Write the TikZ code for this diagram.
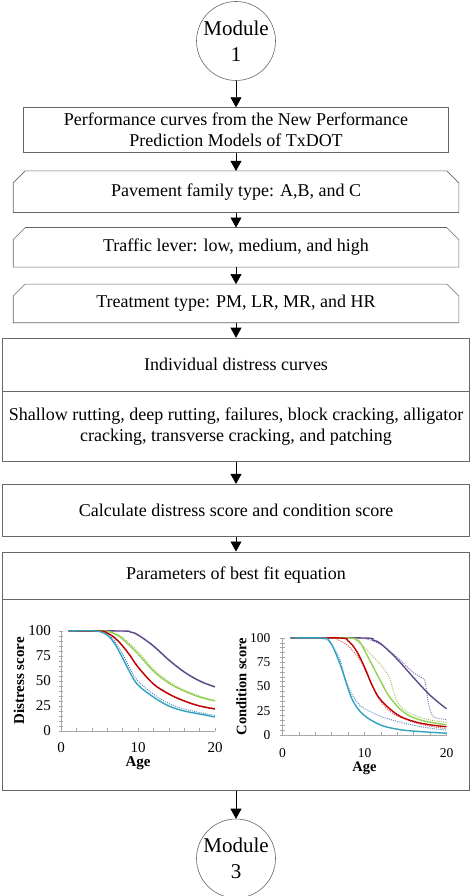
\documentclass[tikz,border=0pt]{standalone}
\usepackage{fontspec}
\setmainfont{Liberation Serif}
\usetikzlibrary{arrows.meta,positioning}

\definecolor{cpurple}{HTML}{5F4B8B}
\definecolor{cgreen}{HTML}{92D050}
\definecolor{cred}{HTML}{C00000}
\definecolor{cteal}{HTML}{31A2BE}
\definecolor{dpurple}{HTML}{8064A2}
\definecolor{dgreen}{HTML}{9BBB59}
\definecolor{dred}{HTML}{D05050}
\definecolor{dteal}{HTML}{4F81BD}
\definecolor{axisgray}{HTML}{A6A6A6}

% outline with the two upper corners cut off
\newcommand{\drawchamfer}[1]{%
  \draw[draw=black!60, line width=0.6pt] ([yshift=-12pt]#1.north west) -- ([xshift=12pt]#1.north west)
    -- ([xshift=-12pt]#1.north east) -- ([yshift=-12pt]#1.north east)
    -- (#1.south east) -- (#1.south west) -- cycle;}

\begin{document}
\begin{tikzpicture}[
        x=1pt, y=-1pt,
        box/.style={rectangle, draw=black!60, line width=0.6pt, minimum width=467pt, inner sep=0pt, align=center, font=\fontsize{18}{20.7}\selectfont},
        chamf/.style={box, draw=none, minimum width=445pt},
        module/.style={circle, draw=black!60, line width=0.6pt, minimum size=79pt, inner sep=0pt, align=center, font=\fontsize{21}{26}\selectfont},
        flow/.style={-{Triangle[length=10pt, width=11pt]}, line width=0.6pt},
        solidc/.style={line width=1.4pt},
        dotc/.style={line width=0.9pt, dash pattern=on 1pt off 1.2pt},
        axisline/.style={axisgray, line width=0.6pt},
        ticklab/.style={inner sep=0pt, font=\fontsize{15}{17}\selectfont},
        axtitle/.style={inner sep=0pt, font=\fontsize{15}{17}\selectfont\bfseries}
    ]
    \useasboundingbox (0,0) rectangle (474,896);

    % Flow boxes
    \node[module] (m1) at (236,41) {Module\\1};
    \node[box, minimum width=425pt, minimum height=45pt, below=26.5pt of m1] (perf) {Performance curves from the New Performance\\Prediction Models of TxDOT};
    \node[chamf, minimum height=41pt, below=18pt of perf] (fam) {Pavement family type: A,B, and C};
    \node[chamf, minimum height=39pt, below=15pt of fam] (traf) {Traffic lever: low, medium, and high};
    \node[chamf, minimum height=38pt, below=17pt of traf] (treat) {Treatment type: PM, LR, MR, and HR};
    \node[box, minimum height=53pt, below=15pt of treat] (indiv) {Individual distress curves};
    \node[box, minimum height=70pt, below=0pt of indiv] (dlist) {Shallow rutting, deep rutting, failures, block cracking, alligator\\cracking, transverse cracking, and patching};
    \node[box, minimum height=52pt, below=22pt of dlist] (calc) {Calculate distress score and condition score};
    \node[box, minimum height=47pt, below=15pt of calc] (param) {Parameters of best fit equation};
    \node[box, minimum height=191pt, below=0pt of param] (plots) {};
    \node[module, below=28pt of plots] (m3) {Module\\3};

    \drawchamfer{fam}
    \drawchamfer{traf}
    \drawchamfer{treat}

    % Arrows
    \draw[flow] (m1) -- (perf);
    \draw[flow] (perf) -- (fam);
    \draw[flow] (fam) -- (traf);
    \draw[flow] (traf) -- (treat);
    \draw[flow] (treat) -- (indiv);
    \draw[flow] (dlist) -- (calc);
    \draw[flow] (calc) -- (param);
    \draw[flow] (plots) -- (m3);

    % Distress score chart
    \begin{scope}[shift={(61,731)}, x=7.7pt, y=1pt]
        \draw[axisline] (0,0) -- (20,0);
        \draw[axisline] (0,0) -- (0,100);
        \foreach \v in {0,5,...,100} \draw[axisline] ([xshift=-2.5pt]0,\v) -- ([xshift=2pt]0,\v);
        \foreach \t in {2,4,...,20} \draw[axisline] (\t,0) -- ([yshift=3pt]\t,0);
        \foreach \v in {0,25,50,75,100} \node[ticklab, anchor=east] (dsy\v) at ([xshift=-10pt]0,\v) {\v};
        \foreach \t in {0,10,20} \node[ticklab] (dsx\t) at ([yshift=-17pt]\t,0) {\t};
        \node[axtitle, rotate=90] (dsname) at ([xshift=-42pt]0,50) {Distress score};
        \node[axtitle] (dsage) at ([yshift=-32pt]10,0) {Age};
        \draw[dotc, dpurple] plot[smooth, tension=0.6] coordinates {(1,100) (8,100) (9,99.3) (10,96.5) (12,85.5) (14,71.5) (16,59.5) (18,50.5) (20,44.5)};
        \draw[dotc, dgreen] plot[smooth, tension=0.6] coordinates {(1,100) (5.5,100) (7,97.5) (8,93.5) (10,79.5) (12,62) (14,49.5) (16,41) (18,35) (20,30.5)};
        \draw[dotc, dred] plot[smooth, tension=0.6] coordinates {(1,100) (5,100) (6,98.3) (7,93.5) (8,85.5) (9,75.5) (10,64.5) (12,47.5) (14,37.5) (16,30.5) (18,25.5) (20,22.5)};
        \draw[dotc, dteal] plot[smooth, tension=0.6] coordinates {(1,100) (4.5,100) (6,97) (7,89.5) (8,77) (9,62) (10,50) (12,37) (14,27.5) (16,22) (18,18.5) (20,15.5)};
        \draw[solidc, cpurple] plot[smooth, tension=0.6] coordinates {(1,100) (8,100) (9,99) (10,96) (12,85) (14,71) (16,59) (18,50) (20,44)};
        \draw[solidc, cgreen] plot[smooth, tension=0.6] coordinates {(1,100) (5.5,100) (7,97) (8,92) (10,77) (12,60) (14,48) (16,40) (18,34) (20,30)};
        \draw[solidc, cred] plot[smooth, tension=0.6] coordinates {(1,100) (5,100) (6,98) (7,93) (8,85) (9,75) (10,64) (12,47) (14,37) (16,30) (18,25) (20,22)};
        \draw[solidc, cteal] plot[smooth, tension=0.6] coordinates {(1,100) (4.5,100) (6,96) (7,87) (8,73) (9,58) (10,46) (12,34) (14,25) (16,20) (18,17) (20,14)};
    \end{scope}

    % Condition score chart
    \begin{scope}[shift={(282.5,735)}, x=8.2pt, y=0.97pt]
        \draw[axisline] (0,0) -- (20,0);
        \draw[axisline] (0,0) -- (0,100);
        \foreach \v in {0,5,...,100} \draw[axisline] ([xshift=-2.5pt]0,\v) -- ([xshift=2pt]0,\v);
        \foreach \t in {2,4,...,20} \draw[axisline] (\t,0) -- ([yshift=3pt]\t,0);
        \foreach \v in {0,25,50,75,100} \node[ticklab, font=\fontsize{13.5}{15}\selectfont, anchor=east] (csy\v) at ([xshift=-12pt]0,\v) {\v};
        \foreach \t in {0,10,20} \node[ticklab, font=\fontsize{13.5}{15}\selectfont] (csx\t) at ([yshift=-18pt]\t,0) {\t};
        \node[axtitle, font=\fontsize{14.5}{16}\selectfont\bfseries, rotate=90] (csname) at ([xshift=-41pt]0,50) {Condition score};
        \node[axtitle, font=\fontsize{14.5}{16}\selectfont\bfseries] (csage) at ([yshift=-33pt]10,0) {Age};
        \draw[dotc, dpurple] plot[smooth, tension=0.5] coordinates {(1,100) (9,100) (11,97) (12,93) (13,87) (14,80) (15,72) (16,64) (17,59) (17.4,55) (17.8,32) (18.3,20) (19,17) (20,16)};
        \draw[dotc, dgreen] plot[smooth, tension=0.5] coordinates {(1,100) (8,100) (9,97) (10,90) (11,81) (12,72) (13,60) (13.5,46) (14,34) (15,25) (16.5,19) (18,15.5) (20,13)};
        \draw[dotc, dred] plot[smooth, tension=0.5] coordinates {(1,100) (6,100) (7,97) (8,92) (9.5,77) (10.7,55) (12,34) (13.5,22) (16,13) (18,9) (20,6.5)};
        \draw[dotc, dteal] plot[smooth, tension=0.5] coordinates {(1,100) (5,99) (6,93) (7,78) (7.5,62) (8,50) (8.6,40) (9.5,30) (10.5,25) (12,19) (14,14) (16,10) (18,7) (20,5)};
        \draw[solidc, cpurple] plot[smooth, tension=0.6] coordinates {(1,100) (10,100) (11,98) (12,94) (14,78) (16,59) (18,41) (20,27)};
        \draw[solidc, cgreen] plot[smooth, tension=0.6] coordinates {(1,100) (8,100) (9,98) (9.5,95) (10.7,76) (12,55) (13,40) (14.7,24) (16.8,15.5) (20,10.5)};
        \draw[solidc, cred] plot[smooth, tension=0.6] coordinates {(1,100) (7,100) (8,97) (9,87) (10,70) (11,50) (12,36) (14,21) (16,14) (18,10.5) (20,8.5)};
        \draw[solidc, cteal] plot[smooth, tension=0.6] coordinates {(1,100) (5,100) (5.6,98) (6.2,90) (7.2,69) (7.8,53) (8.6,35) (9.85,21) (11.9,10.5) (14,6) (16,4) (20,1.8)};
    \end{scope}
\end{tikzpicture}
\end{document}
